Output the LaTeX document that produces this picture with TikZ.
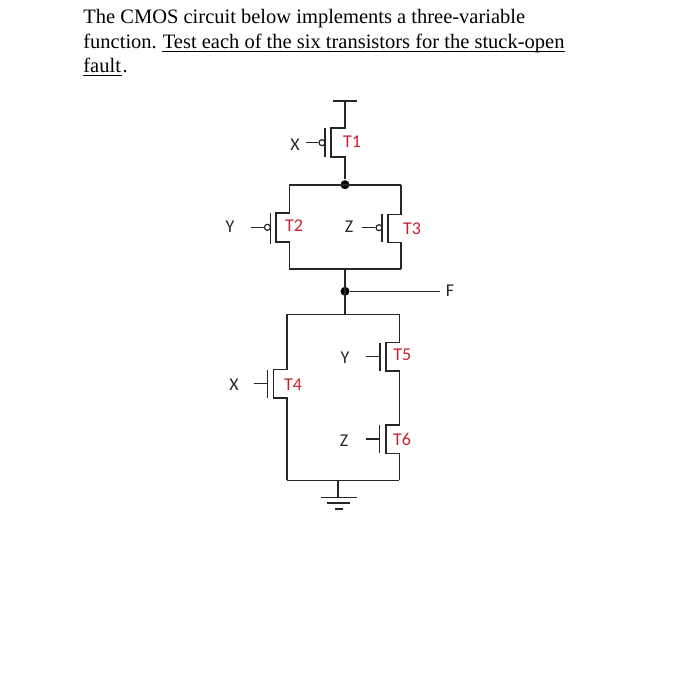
\documentclass[tikz,border=0pt]{standalone}
\usepackage{fontspec}
\setmainfont{Liberation Serif}
\newfontfamily\labelfont{Carlito}
\definecolor{wirecol}{HTML}{262626}
\definecolor{tnamecol}{HTML}{C8202F}
\begin{document}
\begin{tikzpicture}[x=1pt, y=-1pt, line width=1.6pt,
    every node/.style={inner sep=0pt},
    textline/.style={anchor=base west, font=\fontsize{20.5}{24}\selectfont},
    signal/.style={font=\labelfont\fontsize{18}{20}\selectfont, text=wirecol},
    tname/.style={font=\labelfont\fontsize{18}{20}\selectfont, text=tnamecol},
    wire/.style={draw=wirecol, line join=miter},
    gatewire/.style={draw=wirecol, line width=1.5pt},
    bubble/.style={circle, draw=wirecol, line width=1.2pt, minimum size=6pt},
    underbar/.style={draw=black, line width=1.1pt},
    junction/.style={circle, fill=black, minimum size=9pt}]
\useasboundingbox (0,0) rectangle (700,675);
% Question text
\node (line1) [textline] at (82.6,23.5) {The CMOS circuit below implements a three-variable};
\node (line2a) [textline] at (82.6,48.5) {function.};
\node (line2b) [textline, xshift=4.4pt] at (line2a.base east) {Test each of the six transistors for the stuck-open};
\node (line3a) [textline] at (82.6,72.5) {fault};
\node (line3b) [textline] at (line3a.base east) {.};
\draw[underbar] ([yshift=-2.6pt]line2b.base west) -- ([yshift=-2.6pt]line2b.base east);
\draw[underbar] ([yshift=-2.6pt]line3a.base west) -- ([yshift=-2.6pt]line3a.base east);

% Junctions and rails
\coordinate (vdd) at (345,100.7);
\coordinate (vddl) at (333,100.7);
\coordinate (vddr) at (357,100.7);
\node (n1) [junction] at (345,184.7) {};
\node (n2) [junction] at (345,291.3) {};
\coordinate (n1l) at (289.3,184.7);
\coordinate (n1r) at (401,184.7);
\coordinate (n2t) at (345,269);
\coordinate (n2l) at (289.3,269);
\coordinate (n2r) at (401,269);
\coordinate (n3) at (345,314.3);
\coordinate (n3l) at (287,314.3);
\coordinate (n3r) at (399.3,314.3);
\coordinate (gndl) at (287,480.3);
\coordinate (gndr) at (399.3,480.3);
\coordinate (gnd) at (338,480.3);
\coordinate (gnd1) at (338,497.3);

% Labels
\node (x1) [signal] at (295,145) {X};
\node (y2) [signal] at (230,226.7) {Y};
\node (z3) [signal] at (349,226.5) {Z};
\node (x4) [signal] at (234,385) {X};
\node (y5) [signal] at (345,357.7) {Y};
\node (z6) [signal] at (344,440.7) {Z};
\node (f) [signal] at (450,290.5) {F};
\node (t1) [tname] at (352,142) {T1};
\node (t2) [tname] at (294,226) {T2};
\node (t3) [tname] at (412,229) {T3};
\node (t4) [tname] at (293,385) {T4};
\node (t5) [tname] at (402.3,355) {T5};
\node (t6) [tname] at (402,439) {T6};

% Bubbles on the pull-up gates
\node (b1) [bubble] at (322,142.7) {};
\node (b2) [bubble] at (267.4,227.3) {};
\node (b3) [bubble] at (379,227.7) {};

% Rails
\draw[wire] (vddl) -- (vddr);
\draw[wire] (n1l) -- (n1r);
\draw[wire] (n2l) -- (n2r);
\draw[wire] (n2t) -- (n3);
\draw[wire] (n2) -- (440,291.3);
\draw[wire] (n3l) -- (n3r);
\draw[wire] (gndl) -- (gndr);
\draw[wire] (gnd) -- (gnd1);
\draw[wire] (320.7,497.3) -- (357,497.3);
\draw[wire] (327.3,502.7) -- (350,502.7);
\draw[wire] (335,508.7) -- (342.7,508.7);

% Pull-up transistors
\draw[wire] (vdd) -- (345,128) -- (330.7,128) -- (330.7,157) -- (345,157) -- (n1);
\draw[gatewire] (325,128) -- (325,157);
\draw[gatewire] (305.7,142.7) -- (b1);
\draw[wire] (n1l) -- (289.3,213) -- (276,213) -- (276,241.7) -- (289.3,241.7) -- (n2l);
\draw[gatewire] (270.3,213) -- (270.3,244);
\draw[gatewire] (250.7,227.3) -- (b2);
\draw[wire] (n1r) -- (401,214.3) -- (387.7,214.3) -- (387.7,242.3) -- (401,242.3) -- (n2r);
\draw[gatewire] (382,214.3) -- (382,242.3);
\draw[gatewire] (362.3,227.7) -- (b3);

% Pull-down transistors
\draw[wire] (n3l) -- (287,369.3) -- (273.3,369.3) -- (273.3,398) -- (287,398) -- (gndl);
\draw[gatewire] (267.7,370) -- (267.7,398);
\draw[gatewire] (254,383.7) -- (267.7,383.7);
\draw[wire] (n3r) -- (399.3,342.3) -- (385.7,342.3) -- (385.7,370.7) -- (399.3,370.7) -- (399.3,425) -- (385.7,425) -- (385.7,453.3) -- (399.3,453.3) -- (gndr);
\draw[gatewire] (380,343) -- (380,371);
\draw[gatewire] (366,356.7) -- (380,356.7);
\draw[gatewire] (379.5,425) -- (379.5,453);
\draw[gatewire] (366,439) -- (379.5,439);
\end{tikzpicture}
\end{document}
